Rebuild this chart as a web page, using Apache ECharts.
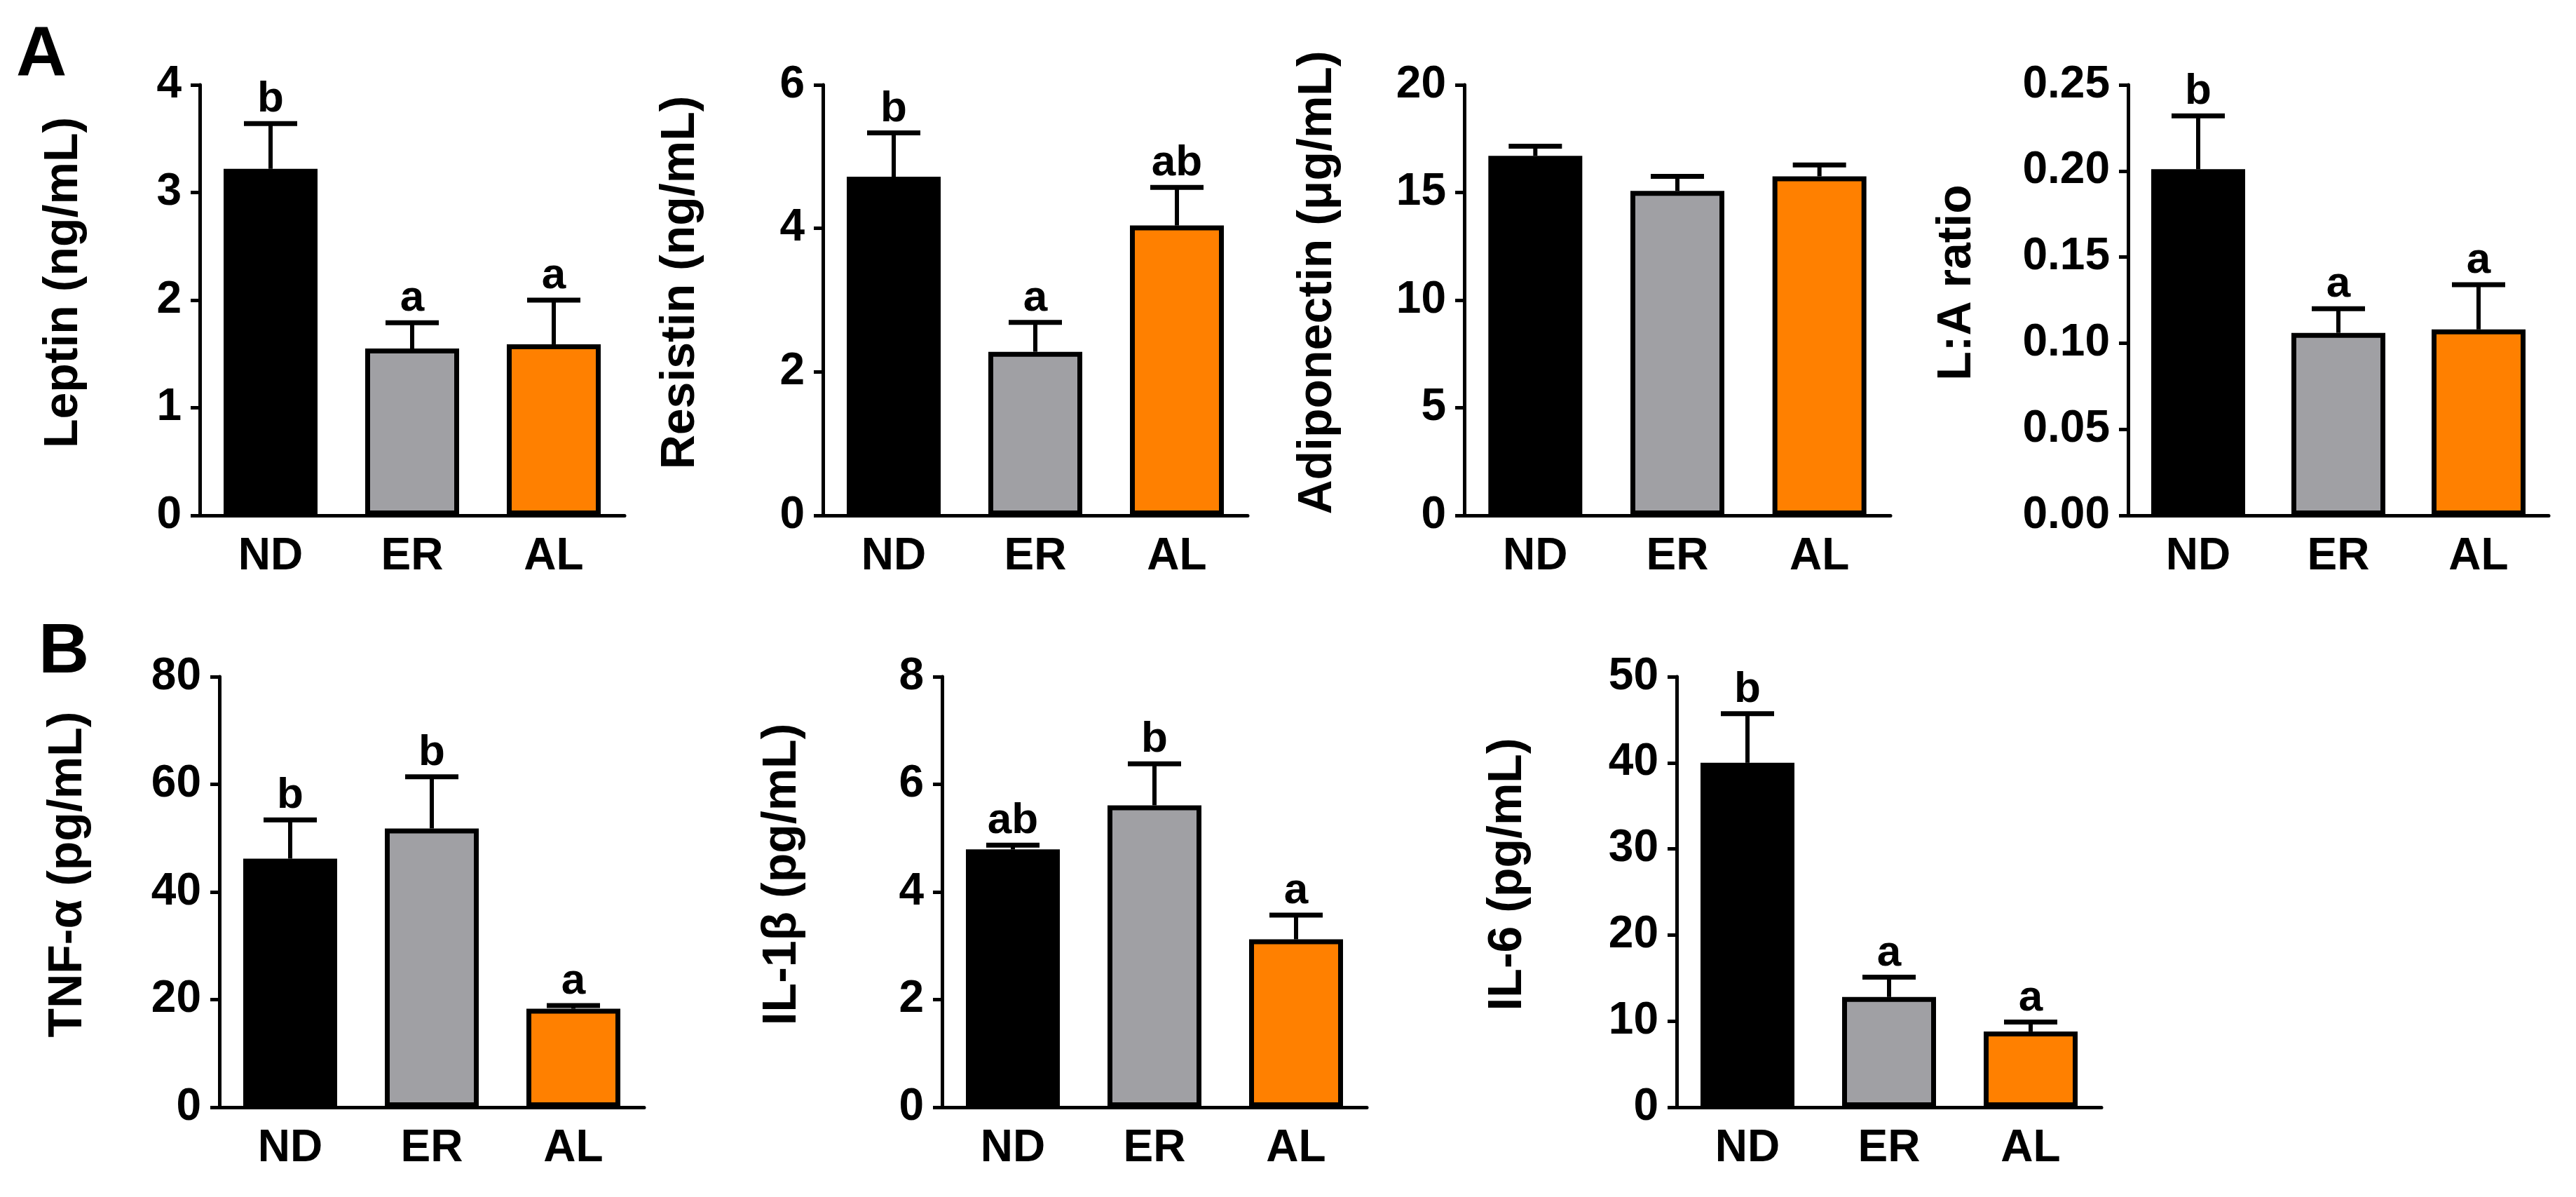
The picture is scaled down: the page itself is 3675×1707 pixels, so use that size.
<!DOCTYPE html>
<html><head><meta charset="utf-8">
<script src="https://cdn.jsdelivr.net/npm/echarts@6/dist/echarts.min.js"></script>
<style>html,body{margin:0;padding:0;background:#fff}#c{width:3675px;height:1707px}</style>
</head><body><div id="c"></div>
<script>
// ---------- data ----------
const categories = ['ND', 'ER', 'AL'];
const barColors = ['#000000', '#A0A0A4', '#FF8000'];

const leptinMean = [3.22, 1.55, 1.59];
const leptinSem = [0.42, 0.24, 0.41];
const leptinLetters = ['b', 'a', 'a'];
const leptinTicks = [0, 1, 2, 3, 4];

const resistinMean = [4.72, 2.28, 4.04];
const resistinSem = [0.61, 0.41, 0.53];
const resistinLetters = ['b', 'a', 'ab'];
const resistinTicks = [0, 2, 4, 6];

const adiponectinMean = [16.7, 15.07, 15.75];
const adiponectinSem = [0.45, 0.68, 0.53];
const adiponectinLetters = ['', '', ''];
const adiponectinTicks = [0, 5, 10, 15, 20];

const laRatioMean = [0.201, 0.106, 0.108];
const laRatioSem = [0.031, 0.014, 0.026];
const laRatioLetters = ['b', 'a', 'a'];
const laRatioTicks = ['0.00', '0.05', '0.10', '0.15', '0.20', '0.25'];

const tnfMean = [46.2, 51.8, 18.3];
const tnfSem = [7.2, 9.6, 0.6];
const tnfLetters = ['b', 'b', 'a'];
const tnfTicks = [0, 20, 40, 60, 80];

const il1bMean = [4.79, 5.61, 3.12];
const il1bSem = [0.08, 0.77, 0.45];
const il1bLetters = ['ab', 'b', 'a'];
const il1bTicks = [0, 2, 4, 6, 8];

const il6Mean = [40.0, 12.8, 8.8];
const il6Sem = [5.7, 2.3, 1.1];
const il6Letters = ['b', 'a', 'a'];
const il6Ticks = [0, 10, 20, 30, 40, 50];

const axisNames = ['Leptin (ng/mL)', 'Resistin (ng/mL)', 'Adiponectin (\u03bcg/mL)', 'L:A ratio',
                   'TNF-\u03b1 (pg/mL)', 'IL-1\u03b2 (pg/mL)', 'IL-6 (pg/mL)'];
const panelLetters = ['A', 'B'];

// ---------- layout (positions / styles only) ----------
const FONT = '"Liberation Sans", Arial, Helvetica, sans-serif';
const panels = [
  {mean: leptinMean, sem: leptinSem, letters: leptinLetters, ticks: leptinTicks, name: axisNames[0], grid: {left: 285, top: 121, width: 606, height: 614}, gap: 160},
  {mean: resistinMean, sem: resistinSem, letters: resistinLetters, ticks: resistinTicks, name: axisNames[1], grid: {left: 1174, top: 121, width: 606, height: 614}, gap: 169},
  {mean: adiponectinMean, sem: adiponectinSem, letters: adiponectinLetters, ticks: adiponectinTicks, name: axisNames[2], grid: {left: 2089, top: 121, width: 608, height: 614}, gap: 175},
  {mean: laRatioMean, sem: laRatioSem, letters: laRatioLetters, ticks: laRatioTicks, name: axisNames[3], grid: {left: 3036, top: 121, width: 600, height: 614}, gap: 210, dec: 2},
  {mean: tnfMean, sem: tnfSem, letters: tnfLetters, ticks: tnfTicks, name: axisNames[4], grid: {left: 313, top: 965, width: 606, height: 614}, gap: 182},
  {mean: il1bMean, sem: il1bSem, letters: il1bLetters, ticks: il1bTicks, name: axisNames[5], grid: {left: 1344, top: 965, width: 606, height: 614}, gap: 194},
  {mean: il6Mean, sem: il6Sem, letters: il6Letters, ticks: il6Ticks, name: axisNames[6], grid: {left: 2392, top: 965, width: 606, height: 614}, gap: 207}
];

function errRender(mean, sem, letters) {
  return function (params, api) {
    const i = params.dataIndex;
    const base = api.coord([i, mean[i]]);
    const top = api.coord([i, mean[i] + sem[i]]);
    const children = [
      {type: 'line', shape: {x1: base[0], y1: base[1], x2: top[0], y2: top[1]}, style: {stroke: '#000', lineWidth: 6}},
      {type: 'line', shape: {x1: top[0] - 38, y1: top[1], x2: top[0] + 38, y2: top[1]}, style: {stroke: '#000', lineWidth: 7}}
    ];
    if (letters[i]) {
      children.push({type: 'text', x: top[0], y: top[1] - 3,
        style: {text: letters[i], font: 'bold 62px ' + FONT, fill: '#000',
                align: 'center', verticalAlign: 'bottom', textAlign: 'center', textVerticalAlign: 'bottom'}});
    }
    return {type: 'group', children: children};
  };
}

const option = {
  animation: false,
  backgroundColor: '#ffffff',
  grid: [], xAxis: [], yAxis: [], series: [],
  graphic: [
    {type: 'text', left: 23, top: 30, style: {text: panelLetters[0], font: 'bold 100px ' + FONT, fill: '#000'}},
    {type: 'text', left: 55, top: 881, style: {text: panelLetters[1], font: 'bold 100px ' + FONT, fill: '#000'}}
  ]
};

panels.forEach((p, k) => {
  const tickNums = p.ticks.map(Number);
  const interval = tickNums[1] - tickNums[0];
  option.grid.push(Object.assign({containLabel: false}, p.grid));
  option.xAxis.push({
    type: 'category', gridIndex: k, data: categories,
    axisLine: {lineStyle: {color: '#000', width: 5}},
    axisTick: {alignWithLabel: true, length: 15, lineStyle: {color: '#000', width: 5}},
    axisLabel: {color: '#000', fontSize: 64, fontWeight: 'bold', fontFamily: FONT, margin: 27}
  });
  option.yAxis.push({
    type: 'value', gridIndex: k, min: tickNums[0], max: tickNums[tickNums.length - 1], interval: interval,
    name: p.name, nameLocation: 'middle', nameGap: p.gap,
    nameTextStyle: {color: '#000', fontSize: 68, fontWeight: 'bold', fontFamily: FONT, padding: [0, 0, 0, 50]},
    axisLine: {show: true, lineStyle: {color: '#000', width: 5}},
    axisTick: {show: true, length: 13, lineStyle: {color: '#000', width: 5}},
    splitLine: {show: false},
    axisLabel: {color: '#000', fontSize: 64, fontWeight: 'bold', fontFamily: FONT, margin: 26,
      formatter: v => p.dec ? v.toFixed(p.dec) : String(v)}
  });
  option.series.push({
    type: 'bar', xAxisIndex: k, yAxisIndex: k, barWidth: 134,
    data: p.mean.map((v, i) => ({value: v, itemStyle: {color: barColors[i], borderColor: '#000', borderWidth: 7}})),
    z: 2
  });
  option.series.push({
    type: 'custom', xAxisIndex: k, yAxisIndex: k, z: 3,
    data: p.mean.map((v, i) => [i, v, v + p.sem[i]]),
    encode: {x: 0, y: [1, 2]},
    renderItem: errRender(p.mean, p.sem, p.letters)
  });
});

const chart = echarts.init(document.getElementById('c'), null, {renderer: 'canvas'});
chart.setOption(option);
</script></body></html>
